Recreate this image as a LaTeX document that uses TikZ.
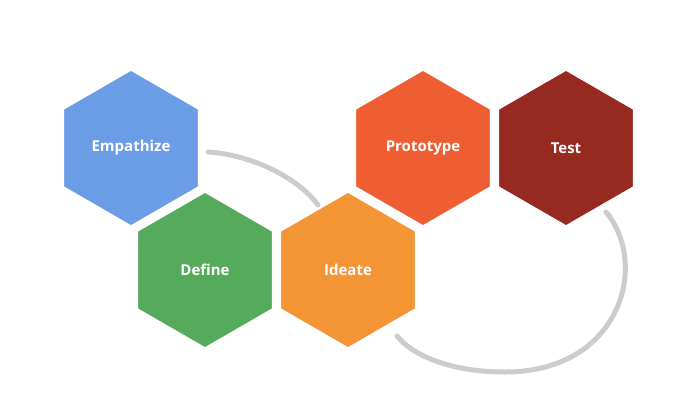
\documentclass[tikz,border=0pt]{standalone}
\usepackage{fontspec}
\setmainfont{Open Sans}
\usetikzlibrary{shapes.geometric}
\definecolor{cEmp}{HTML}{6A9DE6}
\definecolor{cDef}{HTML}{55AB5B}
\definecolor{cIde}{HTML}{F39535}
\definecolor{cPro}{HTML}{EF5E33}
\definecolor{cTes}{HTML}{962A20}
\definecolor{cArc}{HTML}{CCCCCC}
\begin{document}
\begin{tikzpicture}[x=1pt,y=-1pt,
	hexa/.style={regular polygon, regular polygon sides=6, shape border rotate=30,
		minimum size=156pt, inner sep=0pt, draw=white, line width=1.5pt,
		text=white, font=\bfseries\fontsize{15}{18}\selectfont},
	loop/.style={draw=cArc, line width=5pt, line cap=round}
	]
	\useasboundingbox (0,0) rectangle (698,400);
	
	% loops behind the hexagons
	\coordinate (A1) at (208,152);
	\coordinate (A2) at (318,205);
	\coordinate (B1) at (606,212);
	\coordinate (B2) at (397,336);
	\draw[loop] (A1) .. controls (255,155) and (300,180) .. (A2);
	\draw[loop] (B1) .. controls (650,265) and (620,372) .. (505,372)
		.. controls (450,372) and (412,355) .. (B2);
	
	% hexagons
	\node[hexa, fill=cEmp] (emp) at (131,148) {Empathize};
	\node[hexa, fill=cDef] (def) at (205,270) {Define};
	\node[hexa, fill=cIde] (ide) at (348,270) {Ideate};
	\node[hexa, fill=cPro] (pro) at (423,148) {Prototype};
	\node[hexa, fill=cTes] (tes) at (566,148) {Test};
\end{tikzpicture}
\end{document}
